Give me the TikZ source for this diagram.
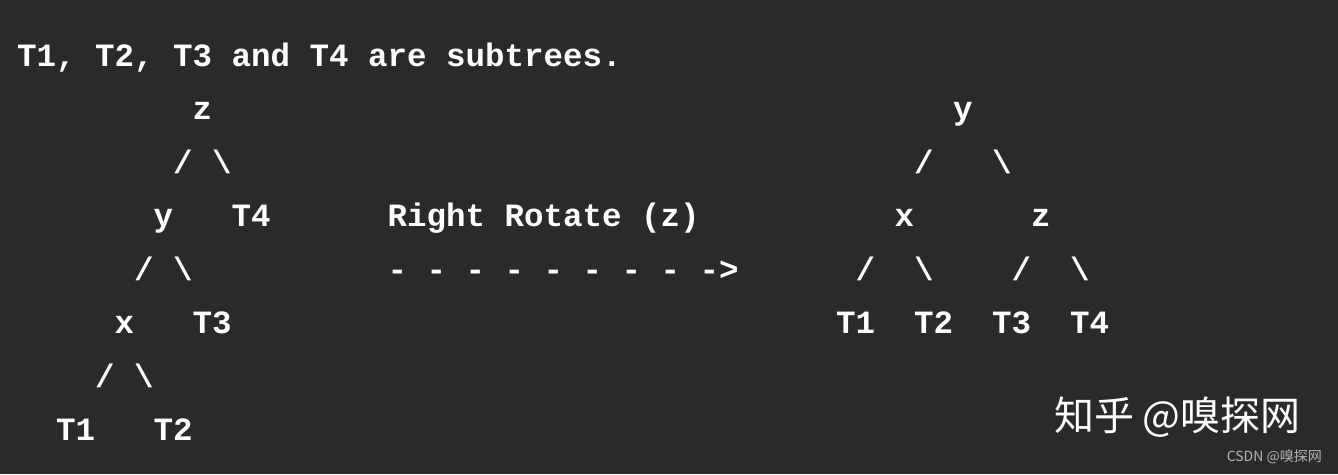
\documentclass[tikz,border=0pt]{standalone}
\usepackage{fontspec}
\setmonofont{Liberation Mono}
\newfontfamily\cjk{Noto Sans CJK SC}
\usepackage{tikz}
\usetikzlibrary{positioning}
\definecolor{bgdark}{HTML}{2A2A2C}
\definecolor{markgray}{HTML}{B4B4B4}
\tikzstyle{tok}  =[anchor=base west, inner sep=0pt, outer sep=0pt,
                   text=white, font=\fontsize{32.5}{32.5}\selectfont\ttfamily\bfseries]
\tikzstyle{wmark}=[anchor=base east, inner sep=0pt, text=white,
                   font=\fontsize{40}{40}\selectfont\cjk]
\newcommand{\cx}[1]{17+19.5*#1}
\newcommand{\ry}[1]{66+53.57*#1}

\begin{document}
\begin{tikzpicture}[x=1pt, y=-1pt]
    \fill[bgdark] (0,0) rectangle (1338,474);
    \useasboundingbox (0,0) rectangle (1338,474);

    % heading
    \node[tok] (head) at ({\cx{0}},{\ry{0}}) {T1, T2, T3 and T4 are subtrees.};

    % tree before
    \node[tok] (z)   at ({\cx{9}},{\ry{1}})  {z};
    \node[tok] (zl)  at ({\cx{8}},{\ry{2}})  {/};
    \node[tok] (zr)  at ({\cx{10}},{\ry{2}}) {\textbackslash};
    \node[tok] (y)   at ({\cx{7}},{\ry{3}})  {y};
    \node[tok] (t4)  at ({\cx{11}},{\ry{3}}) {T4};
    \node[tok] (yl)  at ({\cx{6}},{\ry{4}})  {/};
    \node[tok] (yr)  at ({\cx{8}},{\ry{4}})  {\textbackslash};
    \node[tok] (x)   at ({\cx{5}},{\ry{5}})  {x};
    \node[tok] (t3)  at ({\cx{9}},{\ry{5}})  {T3};
    \node[tok] (xl)  at ({\cx{4}},{\ry{6}})  {/};
    \node[tok] (xr)  at ({\cx{6}},{\ry{6}})  {\textbackslash};
    \node[tok] (t1)  at ({\cx{2}},{\ry{7}})  {T1};
    \node[tok] (t2)  at ({\cx{7}},{\ry{7}})  {T2};

    % rotation
    \node[tok] (rot) at ({\cx{19}},{\ry{3}}) {Right Rotate (z)};
    \node[tok] (arr) at ({\cx{19}},{\ry{4}}) {- - - - - - - - ->};

    % tree after
    \node[tok] (y')  at ({\cx{48}},{\ry{1}}) {y};
    \node[tok] (yl') at ({\cx{46}},{\ry{2}}) {/};
    \node[tok] (yr') at ({\cx{50}},{\ry{2}}) {\textbackslash};
    \node[tok] (x')  at ({\cx{45}},{\ry{3}}) {x};
    \node[tok] (z')  at ({\cx{52}},{\ry{3}}) {z};
    \node[tok] (xl') at ({\cx{43}},{\ry{4}}) {/};
    \node[tok] (xr') at ({\cx{46}},{\ry{4}}) {\textbackslash};
    \node[tok] (zl') at ({\cx{51}},{\ry{4}}) {/};
    \node[tok] (zr') at ({\cx{54}},{\ry{4}}) {\textbackslash};
    \node[tok] (t1') at ({\cx{42}},{\ry{5}}) {T1};
    \node[tok] (t2') at ({\cx{46}},{\ry{5}}) {T2};
    \node[tok] (t3') at ({\cx{50}},{\ry{5}}) {T3};
    \node[tok] (t4') at ({\cx{54}},{\ry{5}}) {T4};

    % watermarks
    \node[wmark] (zhihu) at (1301,430) {知乎 @嗅探网};
    \node[wmark, text=markgray, font=\fontsize{14}{14}\selectfont\cjk]
        (csdn) at (1322,461) {CSDN @嗅探网};
\end{tikzpicture}
\end{document}
